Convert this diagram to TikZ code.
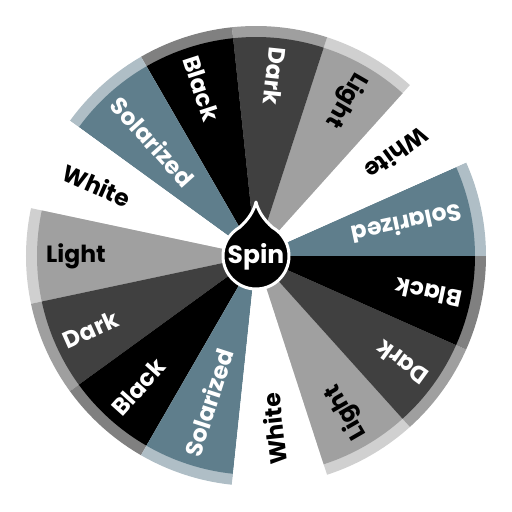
\documentclass[tikz,border=0pt]{standalone}
\usepackage{fontspec}
\setmainfont{Poppins}
\usepackage{xcolor}
\definecolor{wBlack}{RGB}{0,0,0}
\definecolor{wDark}{RGB}{64,64,64}
\definecolor{wLight}{RGB}{160,160,160}
\definecolor{wWhite}{RGB}{255,255,255}
\definecolor{wSolar}{RGB}{95,126,140}
\usepackage{tikz}
\usetikzlibrary{calc}
\tikzstyle{wordlabel} = [
    inner sep=0pt,
    anchor=west,
    font=\bfseries\fontsize{23.5}{23.5}\selectfont,
]
\tikzstyle{spinbutton} = [
    fill=black,
    draw=white,
    line width=3pt,
    line join=round,
]

\begin{document}
\begin{tikzpicture}[x=1pt,y=1pt]
    \useasboundingbox (-256,-256) rectangle (256,256);

    % segments and labels
    \foreach \rep in {0,1,2} {
        \foreach \word/\col/\ink [count=\x] in {Solarized/wSolar/white,White/wWhite/black,Light/wLight/black,Dark/wDark/white,Black/wBlack/white} {
            \pgfmathsetmacro{\a}{120*\rep+24*(\x-1)}
            \fill [\col!50!white] (0,0) -- (\a:230) arc[start angle=\a, end angle=\a+24, radius=230] -- cycle;
            \fill [\col] (0,0) -- (\a:219) arc[start angle=\a, end angle=\a+24, radius=219] -- cycle;
            \node (lbl\rep\x) at (\a+12:210) [wordlabel, text=\ink, rotate=\a+192] {\word};
        }
    }

    % spin button
    \draw [spinbutton] (0,54) .. controls (2,45) and (8,36) .. (60:33)
        arc[start angle=60, end angle=-240, radius=33]
        .. controls (-8,36) and (-2,45) .. (0,54) -- cycle;
    \node (spin) at (0,-1) [text=white, font=\bfseries\fontsize{25}{25}\selectfont] {Spin};

\end{tikzpicture}
\end{document}
